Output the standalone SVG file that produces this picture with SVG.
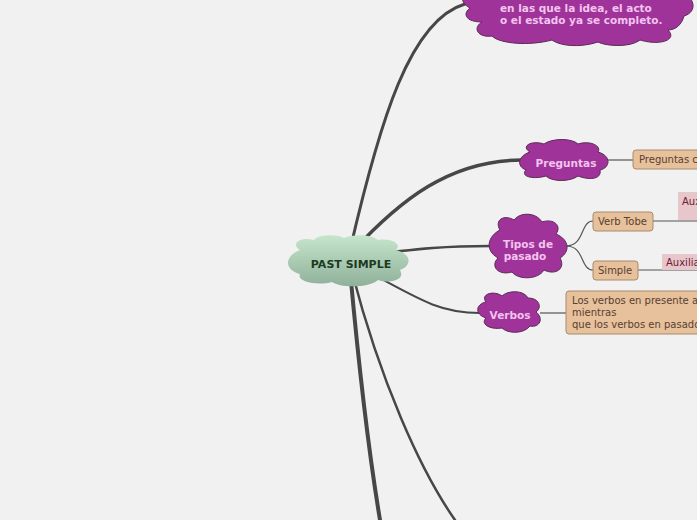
<svg xmlns="http://www.w3.org/2000/svg" width="697" height="520" viewBox="0 0 697 520">
<style>
.cloud{fill:#a0339a;stroke:#5a2a55;stroke-width:1}
.ct{font-family:"DejaVu Sans",sans-serif;font-weight:bold;font-size:10.5px;fill:#f3c4ee;text-anchor:middle}
.box{fill:#e6c19c;stroke:#a88a6c;stroke-width:1}
.bt{font-family:"DejaVu Sans",sans-serif;font-size:10px;fill:#5a4030}
.pk{fill:#e7c6cc}
.pt{font-family:"DejaVu Sans",sans-serif;font-size:10px;fill:#6a2030}
.main{fill:none;stroke:#474747;stroke-linecap:round}
.thin{fill:none;stroke:#555;stroke-width:1.2}
</style>
<defs>
<linearGradient id="g" x1="0" y1="0" x2="0" y2="1"><stop offset="0" stop-color="#c6e6cc"/><stop offset="1" stop-color="#8fb09a"/></linearGradient>
</defs>
<rect width="697" height="520" fill="#f1f1f1"/>
<g id="connectors">
<path class="main" stroke-width="3" d="M350 250 C380 120 410 20 465 4"/>
<path class="main" stroke-width="3.5" d="M352 252 C400 200 450 160 522 160"/>
<path class="main" stroke-width="2.5" d="M360 256 C420 248 450 246 490 246"/>
<path class="main" stroke-width="2" d="M365 270 C420 300 440 313 480 313"/>
<path class="main" stroke-width="4" d="M350 270 C360 380 370 460 380 520"/>
<path class="main" stroke-width="2.5" d="M352 272 C380 380 420 470 455 520"/>
<path class="thin" d="M607 160 H633"/>
<path class="thin" d="M566 246 C585 246 580 221 593 221"/>
<path class="thin" d="M566 246 C585 246 580 270 593 270"/>
<path class="thin" d="M653 221 H697"/>
<path class="thin" d="M638 270 H697"/>
<path class="thin" d="M540 313 H566"/>
</g>
<g id="n-top">
<path class="cloud" d="M470 8 C455 0 465 -12 480 -8 L680 -8 C695 -4 698 12 684 16 C682 24 676 30 668 30 C678 40 660 46 640 40 C630 48 605 46 598 42 C580 48 560 46 552 40 C530 46 500 44 492 36 C478 38 472 28 482 22 C466 22 462 14 470 8 Z"/>
<text class="ct" text-anchor="start" style="text-anchor:start" x="500" y="-2">Se utiliza para oraciones</text>
<text class="ct" style="text-anchor:start" x="500" y="12">en las que la idea, el acto</text>
<text class="ct" style="text-anchor:start" x="500" y="24">o el estado ya se completo.</text>
</g>
<g id="n-center">
<path fill="url(#g)" d="M300 250 C290 244 300 236 314 240 C318 234 338 234 344 238 C352 234 372 234 378 240 C392 238 402 244 396 250 C412 254 412 266 400 270 C406 280 390 284 378 280 C370 288 340 288 332 282 C318 286 296 282 300 274 C284 270 284 256 300 250 Z"/>
<text x="351" y="268" text-anchor="middle" font-family="DejaVu Sans, sans-serif" font-weight="bold" font-size="11" fill="#1e3a22">PAST SIMPLE</text>
</g>
<g id="n-preguntas">
<path class="cloud" d="M530 152 C520 146 532 140 544 144 C552 138 572 138 578 144 C590 140 602 146 598 152 C612 156 610 168 600 170 C602 180 588 180 578 176 C570 182 552 182 546 176 C532 180 520 176 526 170 C516 166 518 156 530 152 Z"/>
<text class="ct" x="566" y="167">Preguntas</text>
</g>
<g id="n-tipos">
<path class="cloud" d="M500 230 C494 220 504 214 514 220 C520 212 536 212 542 222 C554 218 562 226 556 234 C570 240 570 252 560 258 C566 268 556 276 544 270 C538 280 518 280 512 272 C498 276 490 266 498 258 C484 250 488 236 500 230 Z"/>
<text class="ct" x="528" y="248">Tipos de</text>
<text class="ct" x="525" y="260">pasado</text>
</g>
<g id="n-verbos">
<path class="cloud" d="M486 302 C480 294 494 290 502 296 C508 290 524 290 528 298 C540 298 542 308 536 312 C544 318 540 328 530 326 C524 334 508 334 502 328 C490 330 480 324 486 318 C474 314 476 304 486 302 Z"/>
<text class="ct" x="510" y="319">Verbos</text>
</g>
<g id="b-preguntas"><rect class="box" x="633" y="150" width="70" height="19" rx="3"/><text class="bt" x="639" y="163">Preguntas c</text></g>
<g id="b-tobe"><rect class="box" x="593" y="212" width="60" height="19" rx="3"/><text class="bt" x="598" y="225">Verb Tobe</text></g>
<g id="b-simple"><rect class="box" x="593" y="261" width="45" height="19" rx="3"/><text class="bt" x="598" y="274">Simple</text></g>
<g id="b-verbos"><rect class="box" x="566" y="291" width="140" height="43" rx="3"/><text class="bt" x="572" y="304">Los verbos en presente a</text><text class="bt" x="572" y="316">mientras</text><text class="bt" x="572" y="328">que los verbos en pasado</text></g>
<g id="p-aux1"><rect class="pk" x="678" y="192" width="25" height="28"/><text class="pt" x="682" y="205">Aux</text></g>
<g id="p-aux2"><rect class="pk" x="662" y="254" width="40" height="16"/><text class="pt" x="666" y="266">Auxilia</text></g>
</svg>
